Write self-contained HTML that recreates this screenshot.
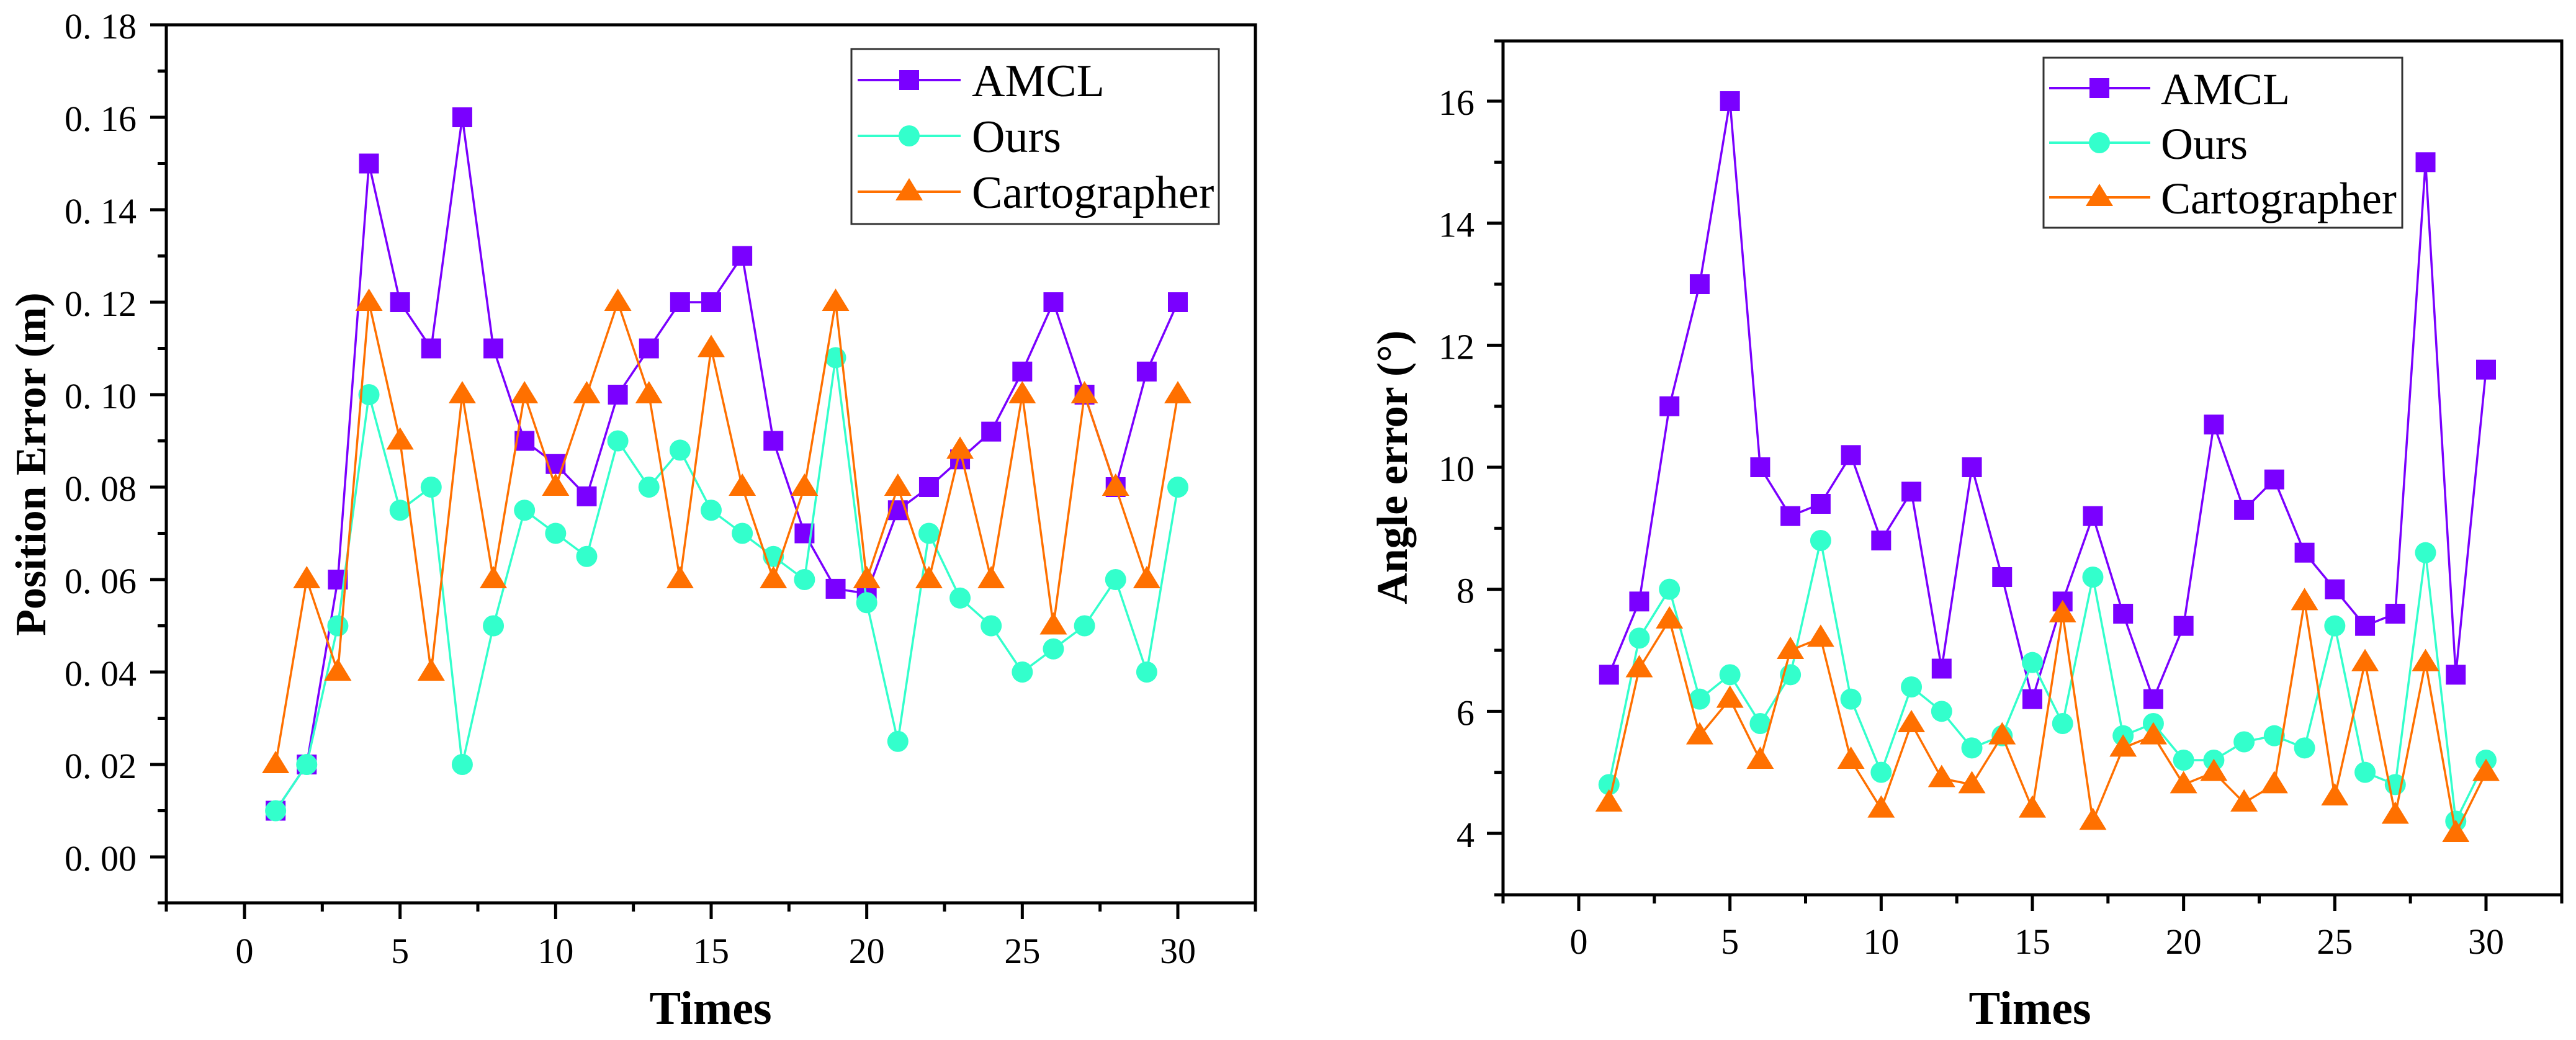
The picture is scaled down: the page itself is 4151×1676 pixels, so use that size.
<!DOCTYPE html>
<html><head><meta charset="utf-8"><style>
html,body{margin:0;padding:0;background:#fff;}
svg{display:block;}
text{font-family:"Liberation Serif",serif;fill:#000;}
</style></head><body>
<svg id="fig" width="4151" height="1676" viewBox="0 0 4151 1676" xmlns="http://www.w3.org/2000/svg"></svg>
<script>
// ---- data ----
const times = [1,2,3,4,5,6,7,8,9,10,11,12,13,14,15,16,17,18,19,20,21,22,23,24,25,26,27,28,29,30];
const posAMCL = [0.01,0.02,0.06,0.15,0.12,0.11,0.16,0.11,0.09,0.085,0.078,0.10,0.11,0.12,0.12,0.13,0.09,0.07,0.058,0.057,0.075,0.08,0.086,0.092,0.105,0.12,0.10,0.08,0.105,0.12];
const posOurs = [0.01,0.02,0.05,0.10,0.075,0.08,0.02,0.05,0.075,0.07,0.065,0.09,0.08,0.088,0.075,0.07,0.065,0.06,0.108,0.055,0.025,0.07,0.056,0.05,0.04,0.045,0.05,0.06,0.04,0.08];
const posCarto = [0.02,0.06,0.04,0.12,0.09,0.04,0.10,0.06,0.10,0.08,0.10,0.12,0.10,0.06,0.11,0.08,0.06,0.08,0.12,0.06,0.08,0.06,0.088,0.06,0.10,0.05,0.10,0.08,0.06,0.10];
const angAMCL = [6.6,7.8,11,13,16,10,9.2,9.4,10.2,8.8,9.6,6.7,10,8.2,6.2,7.8,9.2,7.6,6.2,7.4,10.7,9.3,9.8,8.6,8.0,7.4,7.6,15,6.6,11.6];
const angOurs = [4.8,7.2,8.0,6.2,6.6,5.8,6.6,8.8,6.2,5.0,6.4,6.0,5.4,5.6,6.8,5.8,8.2,5.6,5.8,5.2,5.2,5.5,5.6,5.4,7.4,5.0,4.8,8.6,4.2,5.2];
const angCarto = [4.5,6.7,7.5,5.6,6.2,5.2,7.0,7.2,5.2,4.4,5.8,4.9,4.8,5.6,4.4,7.6,4.2,5.4,5.6,4.8,5.0,4.5,4.8,7.8,4.6,6.8,4.3,6.8,4.0,5.0];
const xTicks = [0,5,10,15,20,25,30];
const posYTicks = [0,0.02,0.04,0.06,0.08,0.10,0.12,0.14,0.16,0.18];
const posYLabels = ["0. 00","0. 02","0. 04","0. 06","0. 08","0. 10","0. 12","0. 14","0. 16","0. 18"];
const angYTicks = [4,6,8,10,12,14,16];
const angYLabels = ["4","6","8","10","12","14","16"];
const seriesNames = ["AMCL","Ours","Cartographer"];

const NS = "http://www.w3.org/2000/svg";
const svg = document.getElementById('fig');
const COLORS = ["#7a00ff","#33ffcc","#ff7000"];
const MARKS = ["square","circle","triangle"];
function el(tag, attrs, parent){
  const e = document.createElementNS(NS, tag);
  for (const k in attrs) e.setAttribute(k, attrs[k]);
  (parent||svg).appendChild(e);
  return e;
}
function marker(g, type, cx, cy, color){
  let m;
  if (type==="square") m = el('rect',{x:cx-16,y:cy-16,width:32,height:32,fill:color},g);
  else if (type==="circle") m = el('ellipse',{cx:cx,cy:cy,rx:17,ry:17,fill:color},g);
  else m = el('polygon',{points:`${cx},${cy-22} ${cx+22},${cy+14} ${cx-22},${cy+14}`,fill:color},g);
  return m;
}
function chart(cfg){
  const g = el('g',{});
  
  
  const X = v => cfg.x0 + (v - 0) * (cfg.x30 - cfg.x0) / 30;
  const Y = v => cfg.yA + (v - cfg.vA) * (cfg.yB - cfg.yA) / (cfg.vB - cfg.vA);
  // frame
  const fr = el('rect',{x:cfg.L,y:cfg.T,width:cfg.R-cfg.L,height:cfg.B-cfg.T,fill:'none',stroke:'#000','stroke-width':5},g);
  
  
  // y ticks
  const yax = el('g',{},g);
  
  
  cfg.yTicks.forEach((v,i)=>{
    const y = Y(v);
    el('line',{x1:cfg.L-26,x2:cfg.L,y1:y,y2:y,stroke:'#000','stroke-width':5},yax);
    const t = el('text',{x:cfg.yLabelRight,y:y+22,'text-anchor':'end','font-size':58},yax);
    t.textContent = cfg.yLabels[i];
    
    
    if (i < cfg.yTicks.length-1 || true){
      const ym = Y(v + cfg.minorStep);
      if (ym > cfg.T+2) el('line',{x1:cfg.L-14,x2:cfg.L,y1:ym,y2:ym,stroke:'#000','stroke-width':5},yax);
    }
  });
  const yb = Y(cfg.yTicks[0]-cfg.minorStep);
  if (yb < cfg.B-2) el('line',{x1:cfg.L-14,x2:cfg.L,y1:yb,y2:yb,stroke:'#000','stroke-width':5},yax);
  el('line',{x1:cfg.L-14,x2:cfg.L,y1:cfg.B,y2:cfg.B,stroke:'#000','stroke-width':5},yax);
  el('line',{x1:cfg.L-14,x2:cfg.L,y1:cfg.T,y2:cfg.T,stroke:'#000','stroke-width':5},yax);
  // x ticks
  const xax = el('g',{},g);
  
  
  xTicks.forEach(v=>{
    const x = X(v);
    el('line',{x1:x,x2:x,y1:cfg.B,y2:cfg.B+26,stroke:'#000','stroke-width':5},xax);
    const t = el('text',{x:x,y:cfg.xLabelBase,'text-anchor':'middle','font-size':58},xax);
    t.textContent = String(v);
    
    
  });
  for (let v=-2.5; v<=32.5; v+=5){
    const x = X(v);
    if (x>cfg.L+2 && x<cfg.R-2) el('line',{x1:x,x2:x,y1:cfg.B,y2:cfg.B+14,stroke:'#000','stroke-width':5},xax);
  }
  el('line',{x1:cfg.L,x2:cfg.L,y1:cfg.B,y2:cfg.B+14,stroke:'#000','stroke-width':5},xax);
  el('line',{x1:cfg.R,x2:cfg.R,y1:cfg.B,y2:cfg.B+14,stroke:'#000','stroke-width':5},xax);
  // titles
  const xt = el('text',{x:cfg.xTitleX,y:1650,'text-anchor':'middle','font-size':76,'font-weight':'bold'},g);
  xt.textContent = 'Times';
  
  
  const yt = el('text',{x:0,y:0,'text-anchor':'middle','font-size':70,'font-weight':'bold',transform:`translate(${cfg.yTitleX+24},${cfg.yTitleY}) rotate(-90)`},g);
  yt.textContent = cfg.yTitle;
  
  
  // series
  cfg.series.forEach((data,si)=>{
    const sg = el('g',{},g);
    
    
    const pts = data.map((v,i)=>`${X(times[i])},${Y(v)}`).join(' ');
    const pl = el('polyline',{points:pts,fill:'none',stroke:COLORS[si],'stroke-width':3.5},sg);
    
    
    data.forEach((v,i)=>{
      const m = marker(sg, MARKS[si], X(times[i]), Y(v), COLORS[si]);
      
      
    });
  });
  // legend
  const lg = el('g',{},g);
  
  
  const lb = cfg.legend;
  el('rect',{x:lb.x,y:lb.y,width:lb.w,height:lb.h,fill:'#fff',stroke:'#333','stroke-width':3},lg);
  seriesNames.forEach((n,si)=>{
    const e = el('g',{},lg);
    
    
    const cy = lb.rows[si];
    el('line',{x1:lb.l1,x2:lb.l2,y1:cy,y2:cy,stroke:COLORS[si],'stroke-width':4},e);
    marker(e, MARKS[si], lb.mx, cy, COLORS[si]);
    const t = el('text',{x:lb.tx,y:cy+26,'font-size':lb.fs},e);
    t.textContent = n;
  });
}
chart({name:'position-error-chart',L:268,R:2023,T:40,B:1455,x0:394,x30:1898,
  yA:1381,vA:0,yB:40,vB:0.18,minorStep:0.01,yTicks:posYTicks,yLabels:posYLabels,yLabelRight:220,
  xLabelBase:1552,xTitleX:1145,yTitleX:49,yTitleY:748,yTitle:'Position Error (m)',
  series:[posAMCL,posOurs,posCarto],
  legend:{x:1372,y:79,w:592,h:282,rows:[129,219,309],l1:1382,l2:1548,mx:1465,tx:1566,fs:74}});
chart({name:'angle-error-chart',L:2422,R:4128,T:66,B:1442,x0:2544,x30:4006,
  yA:1343,vA:4,yB:163,vB:16,minorStep:1,yTicks:angYTicks,yLabels:angYLabels,yLabelRight:2376,
  xLabelBase:1537,xTitleX:3271,yTitleX:2243,yTitleY:753,yTitle:'Angle error (°)',
  series:[angAMCL,angOurs,angCarto],
  legend:{x:3293,y:93,w:578,h:274,rows:[142,230,318],l1:3302,l2:3465,mx:3383,tx:3482,fs:72}});
</script>
</body></html>
